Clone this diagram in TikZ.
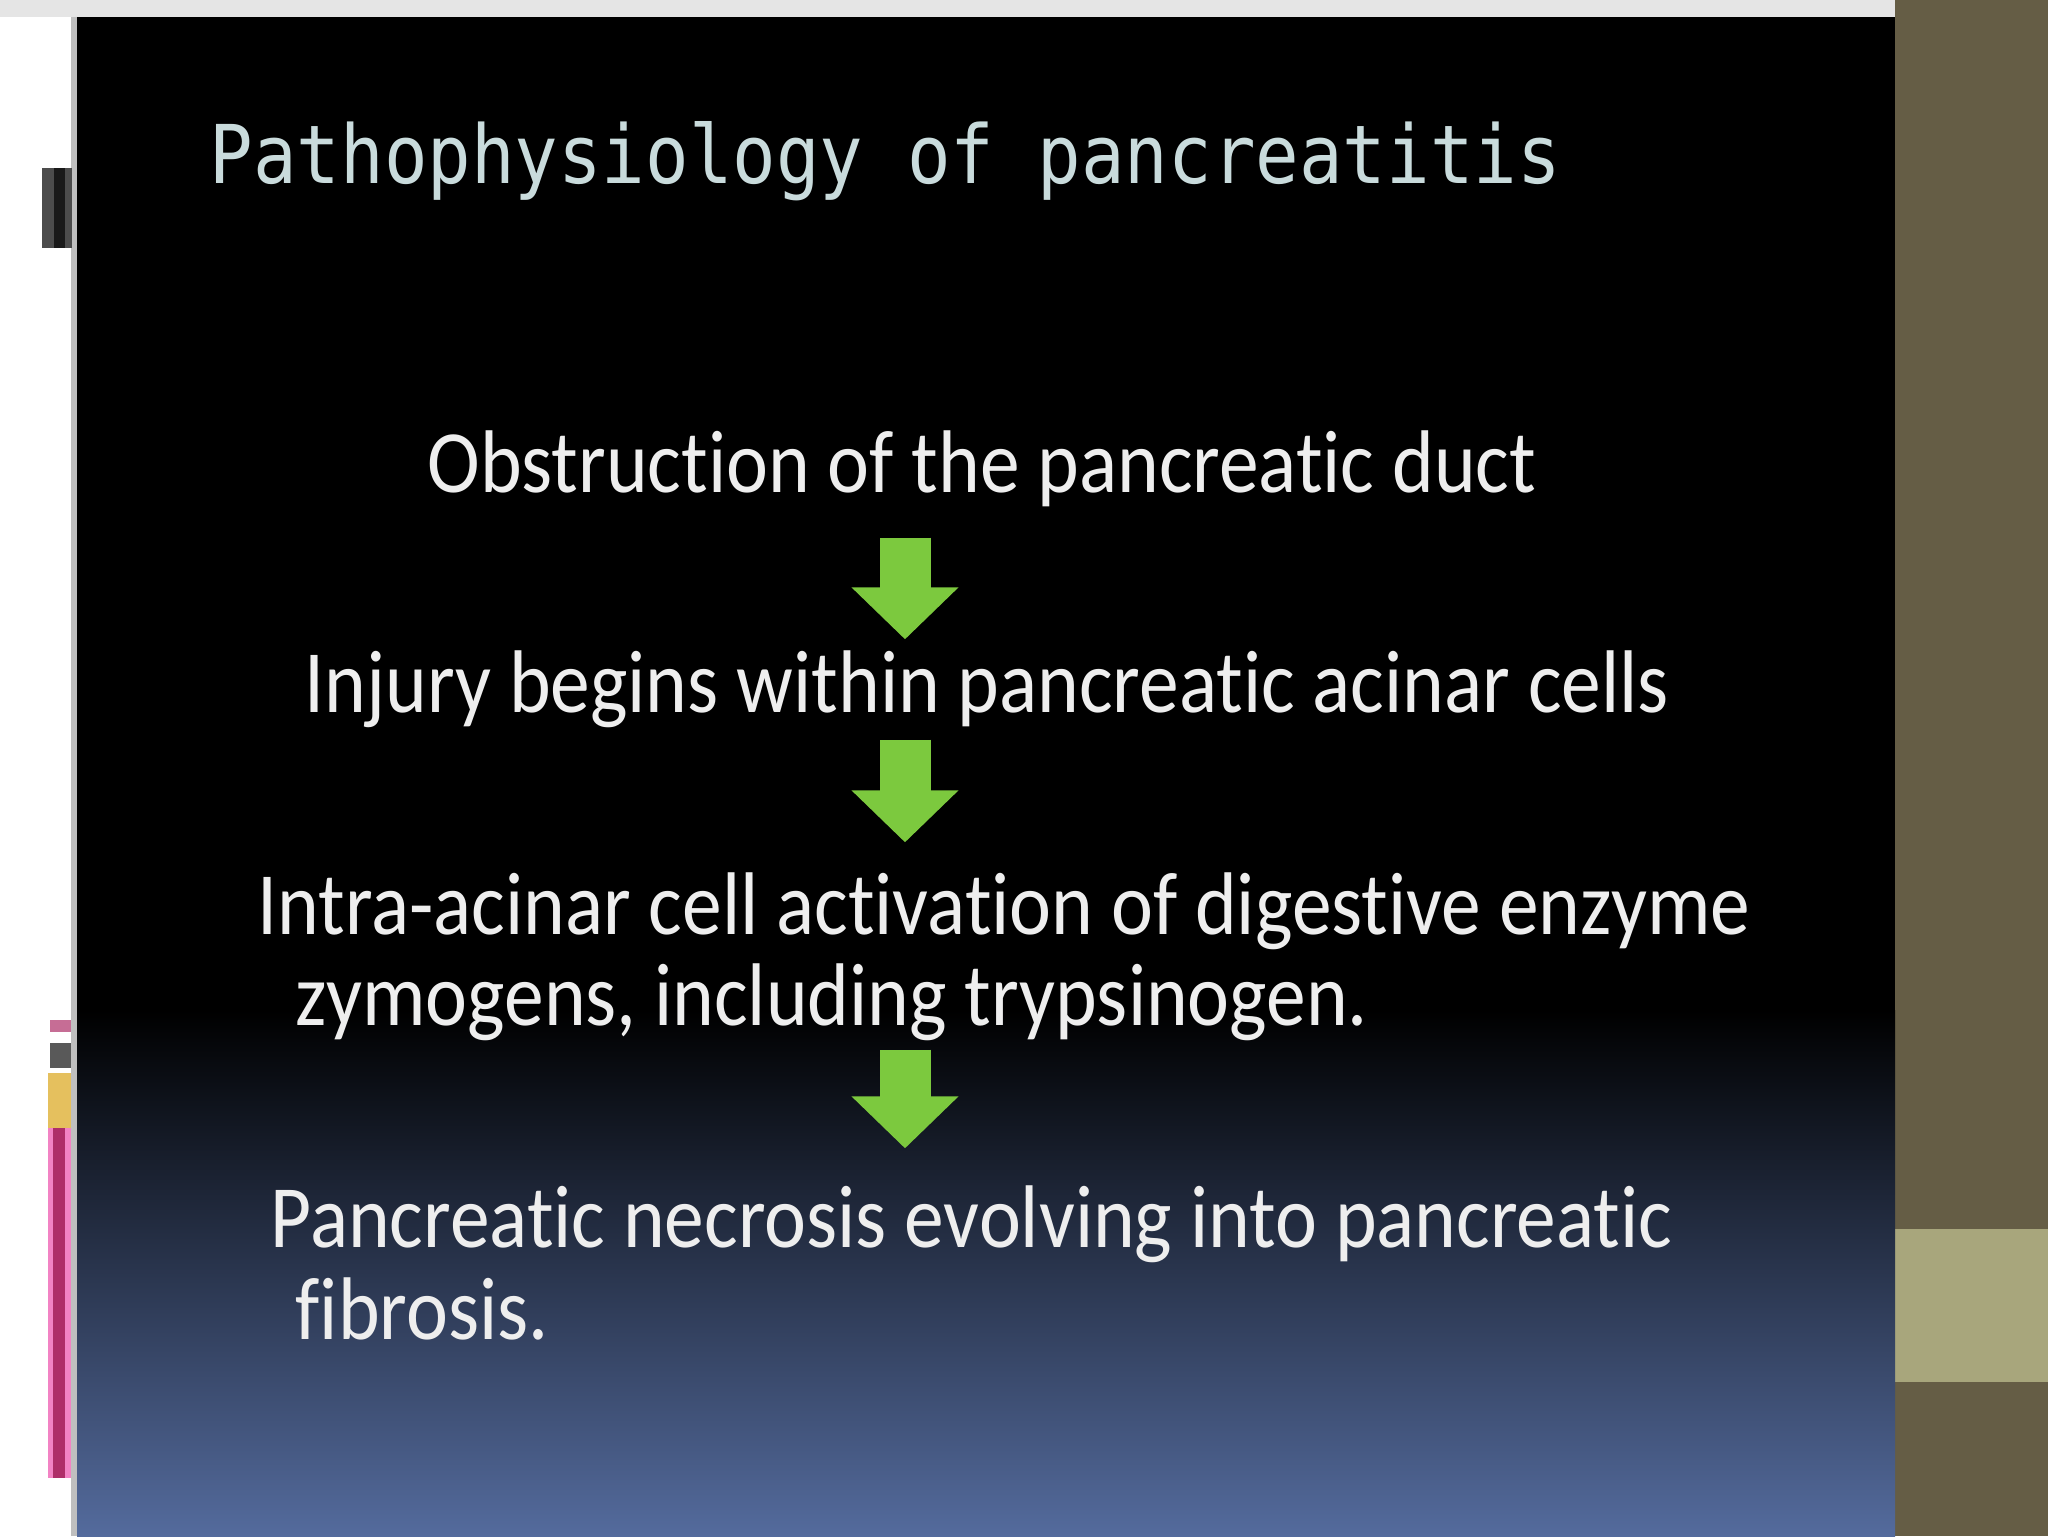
\documentclass[tikz,border=0pt]{standalone}
\usepackage{fontspec}
\setmainfont{Carlito}[Ligatures=NoCommon]
\newfontfamily\titlefont{DejaVu Sans Mono}
\usetikzlibrary{arrows.meta}

\definecolor{slideblue}{HTML}{546B9D}
\definecolor{sideolive}{HTML}{655D45}
\definecolor{sidekhaki}{HTML}{A8A67C}
\definecolor{titlegray}{HTML}{C9DBDC}
\definecolor{textwhite}{HTML}{EEEEEE}
\definecolor{arrowgreen}{HTML}{7CC93E}
\definecolor{arrowdark}{HTML}{2F5A12}
\definecolor{barpink}{HTML}{F283C4}
\definecolor{barcrimson}{HTML}{AE2E68}
\definecolor{baryellow}{HTML}{E5C05E}

% slide text is a little taller than the font
\newcommand\tallt[1]{\scalebox{1}[1.12]{#1}}

\tikzset{
  slidetext/.style={anchor=base west, inner sep=0pt, text=textwhite,
    text height=6mm, text depth=2mm,
    font=\fontsize{22.6}{27}\selectfont},
  titletext/.style={anchor=base west, inner sep=0pt, text=titlegray,
    font=\titlefont\fontsize{20.6}{25}\selectfont},
  downarrow/.style={draw=arrowgreen, line width=5.1mm,
    -{Triangle[width=10.4mm,length=5.2mm]}}
}

\begin{document}
\begin{tikzpicture}[x=0.1mm, y=-0.1mm]

    \useasboundingbox (0,0) rectangle (2048,1536);

    % these are the page and the side bars
    \fill[white] (0,0) rectangle (2048,1536);
    \fill[black!10] (0,0) rectangle (1895,17);
    \fill[sideolive] (1895,0) rectangle (2048,1536);
    \fill[sidekhaki] (1895,1229) rectangle (2048,1382);

    % this is the slide
    \fill[black] (77,17) rectangle (1895,1010);
    \shade[top color=black, bottom color=slideblue] (77,1010) rectangle (1895,1536);
    \fill[black!25] (71,17) rectangle (77,1536);

    % these are the marks on the left edge
    \fill[black!70] (42,168) rectangle (72,248);
    \fill[black!90] (54,168) rectangle (65,248);
    \fill[barcrimson!70] (50,1020) rectangle (71,1032);
    \fill[black!65] (50,1043) rectangle (71,1068);
    \fill[baryellow] (48,1073) rectangle (71,1128);
    \fill[barpink] (48,1128) rectangle (71,1478);
    \fill[barcrimson] (53,1128) rectangle (65,1478);

    % these are the texts
    \node[titletext] (title) at (209,183) {\tallt{Pathophysiology of pancreatitis}};
    \node[slidetext] (obstr) at (427,492) {\tallt{Obstruction of the pancreatic duct}};
    \node[slidetext] (injury) at (304,712) {\tallt{Injury begins within pancreatic acinar cells}};
    \node[slidetext] (intra) at (257,934) {\tallt{Intra-acinar cell activation of digestive enzyme}};
    \node[slidetext] (zymo) at (295,1025) {\tallt{zymogens, including trypsinogen.}};
    \node[slidetext] (necro) at (270,1247) {\tallt{Pancreatic necrosis evolving into pancreatic}};
    \node[slidetext] (fibro) at (295,1339) {\tallt{fibrosis.}};

    % these are the arrows
    \coordinate (axis) at (905,0);
    \draw[downarrow, shorten <=2.5mm, shorten >=1.2mm] (obstr.south -| axis) -- (injury.north -| axis);
    \draw[downarrow, shorten <=0.7mm, shorten >=3.1mm] (injury.south -| axis) -- (intra.north -| axis);
    \draw[downarrow, shorten <=0.4mm, shorten >=3.8mm] (zymo.south -| axis) -- (necro.north -| axis);

\end{tikzpicture}
\end{document}
